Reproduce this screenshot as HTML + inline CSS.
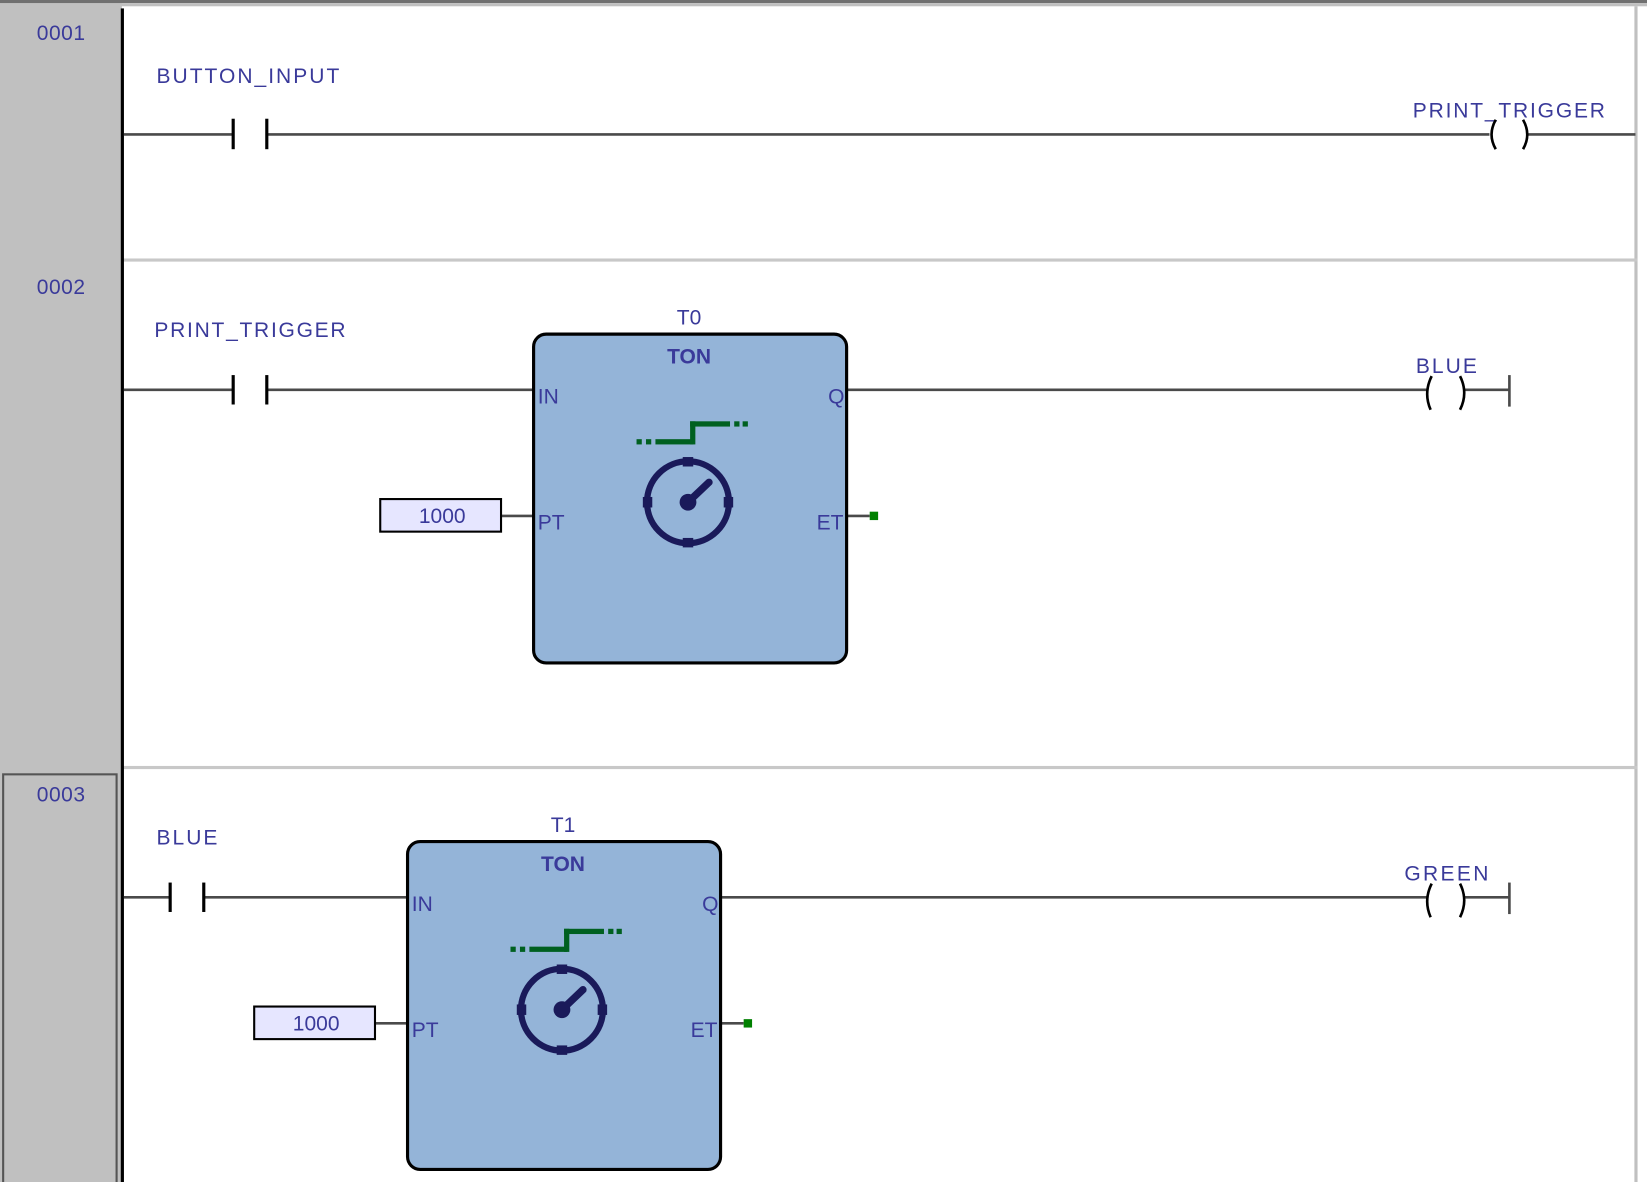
<!DOCTYPE html>
<html><head><style>html,body{margin:0;padding:0;background:#fff;overflow:hidden}svg{display:block}
text{font-family:"Liberation Sans",Arial,sans-serif;fill:#3a3a9a;font-size:20px}</style></head>
<body>
<svg width="1647" height="1182" viewBox="0 0 1568 1125" preserveAspectRatio="none" xmlns="http://www.w3.org/2000/svg">
<defs>
<g id="clock">
<circle cx="0" cy="0" r="39" fill="none" stroke="#1a1a5a" stroke-width="6"/>
<rect x="-5" y="-43" width="10" height="9" fill="#1a1a5a"/>
<rect x="-5" y="34" width="10" height="9" fill="#1a1a5a"/>
<rect x="-43" y="-5" width="9" height="10" fill="#1a1a5a"/>
<rect x="34" y="-5" width="9" height="10" fill="#1a1a5a"/>
<circle cx="0" cy="0" r="8" fill="#1a1a5a"/>
<line x1="0" y1="0" x2="20" y2="-19" stroke="#1a1a5a" stroke-width="7" stroke-linecap="round"/>
</g>
<g id="step" fill="#006020">
<rect x="0" y="-3" width="5" height="5"/><rect x="9" y="-3" width="5" height="5"/>
<rect x="18" y="-3" width="36" height="5"/>
<rect x="51" y="-20" width="5" height="22"/>
<rect x="51" y="-20" width="38" height="5"/>
<rect x="93" y="-20" width="5" height="5"/><rect x="101" y="-20" width="5" height="5"/>
</g>
</defs>
<rect x="0" y="0" width="1568" height="1125" fill="#fff"/>
<rect x="0" y="0" width="116" height="1125" fill="#c0c0c0"/>
<rect x="0" y="0" width="1568" height="3" fill="#707070"/>
<rect x="0" y="3" width="1568" height="3" fill="#c0c0c0"/>
<rect x="1556" y="6" width="3" height="1119" fill="#c0c0c0"/>
<rect x="116" y="246" width="1443" height="3" fill="#c8c8c8"/>
<rect x="116" y="729" width="1443" height="3" fill="#c8c8c8"/>
<rect x="115" y="8" width="3" height="1117" fill="#000"/>
<rect x="3" y="737" width="108" height="390" fill="none" stroke="#555" stroke-width="2"/>
<text x="35" y="38" font-size="19" textLength="46">0001</text>
<text x="35" y="280" font-size="19" textLength="46">0002</text>
<text x="35" y="763" font-size="19" textLength="46">0003</text>

<!-- Rung 1 -->
<text x="149" y="79" textLength="174">BUTTON_INPUT</text>
<g stroke="#4a4a4a" stroke-width="2.5"><line x1="118" y1="128" x2="222" y2="128"/><line x1="254" y1="128" x2="1418" y2="128"/><line x1="1455" y1="128" x2="1557" y2="128"/></g>
<g stroke="#000" stroke-width="3"><line x1="222" y1="113" x2="222" y2="142"/><line x1="254" y1="113" x2="254" y2="142"/></g>
<text x="1345" y="112" textLength="183">PRINT_TRIGGER</text>
<g fill="none" stroke="#000" stroke-width="2.5"><path d="M1424,114 Q1416,128 1424,142"/><path d="M1450,114 Q1458,128 1450,142"/></g>

<!-- Rung 2 -->
<text x="147" y="321" textLength="182">PRINT_TRIGGER</text>
<g stroke="#4a4a4a" stroke-width="2.5"><line x1="118" y1="371" x2="222" y2="371"/><line x1="254" y1="371" x2="508" y2="371"/><line x1="806" y1="371" x2="1360" y2="371"/><line x1="1394" y1="371" x2="1437" y2="371"/><line x1="1437" y1="357" x2="1437" y2="387"/><line x1="477" y1="491" x2="508" y2="491"/><line x1="806" y1="491" x2="828" y2="491"/></g>
<g stroke="#000" stroke-width="3"><line x1="222" y1="357" x2="222" y2="385"/><line x1="254" y1="357" x2="254" y2="385"/></g>
<g fill="none" stroke="#000" stroke-width="2.5"><path d="M1363,358 Q1355,374 1362,390"/><path d="M1390,358 Q1398,374 1390,390"/></g>
<text x="1348" y="355" textLength="58">BLUE</text>
<rect x="828" y="487" width="8" height="8" fill="#008000"/>
<rect x="362" y="475" width="115" height="31" fill="#e6e6ff" stroke="#000" stroke-width="2"/>
<text x="421" y="498" text-anchor="middle" font-size="19">1000</text>
<rect x="508" y="318" width="298" height="313" rx="12" fill="#94b4d8" stroke="#000" stroke-width="3"/>
<text x="656" y="309" text-anchor="middle">T0</text>
<text x="656" y="346" text-anchor="middle" font-weight="bold" fill="#1a1a8a">TON</text>
<text x="512" y="384">IN</text><text x="804" y="384" text-anchor="end">Q</text>
<text x="512" y="504">PT</text><text x="803" y="504" text-anchor="end">ET</text>
<use href="#step" x="606" y="421"/>
<use href="#clock" x="655" y="478"/>

<!-- Rung 3 -->
<text x="149" y="804" textLength="58">BLUE</text>
<g stroke="#4a4a4a" stroke-width="2.5"><line x1="118" y1="854" x2="162" y2="854"/><line x1="194" y1="854" x2="388" y2="854"/><line x1="686" y1="854" x2="1360" y2="854"/><line x1="1394" y1="854" x2="1437" y2="854"/><line x1="1437" y1="840" x2="1437" y2="870"/><line x1="357" y1="974" x2="388" y2="974"/><line x1="686" y1="974" x2="708" y2="974"/></g>
<g stroke="#000" stroke-width="3"><line x1="162" y1="840" x2="162" y2="868"/><line x1="194" y1="840" x2="194" y2="868"/></g>
<g fill="none" stroke="#000" stroke-width="2.5"><path d="M1363,841 Q1355,857 1362,873"/><path d="M1390,841 Q1398,857 1390,873"/></g>
<text x="1337" y="838" textLength="80">GREEN</text>
<rect x="708" y="970" width="8" height="8" fill="#008000"/>
<rect x="242" y="958" width="115" height="31" fill="#e6e6ff" stroke="#000" stroke-width="2"/>
<text x="301" y="981" text-anchor="middle" font-size="19">1000</text>
<rect x="388" y="801" width="298" height="312" rx="12" fill="#94b4d8" stroke="#000" stroke-width="3"/>
<text x="536" y="792" text-anchor="middle">T1</text>
<text x="536" y="829" text-anchor="middle" font-weight="bold" fill="#1a1a8a">TON</text>
<text x="392" y="867">IN</text><text x="684" y="867" text-anchor="end">Q</text>
<text x="392" y="987">PT</text><text x="683" y="987" text-anchor="end">ET</text>
<use href="#step" x="486" y="904"/>
<use href="#clock" x="535" y="961"/>
</svg>
</body></html>
